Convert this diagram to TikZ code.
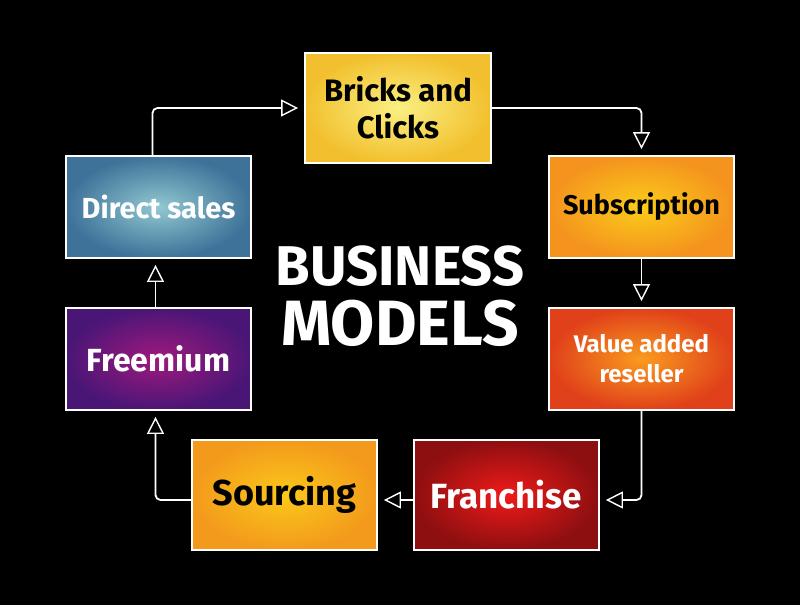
\documentclass[tikz,border=0pt]{standalone}
\usepackage{fontspec}
\setmainfont{Fira Sans}
\usetikzlibrary{arrows.meta}
\tikzset{
  box/.style={draw=white, line width=1.8pt, minimum width=185pt, inner sep=2pt, align=center},
  conn/.style={draw=white, line width=1.8pt, rounded corners=5pt, shorten >=6pt,
    -{Triangle[length=17pt,width=17pt,fill=black,line width=1.4pt]}},
}
\begin{document}
\begin{tikzpicture}[x=1pt,y=-1pt]
\fill[black] (0,0) rectangle (800,605);
\useasboundingbox (0,0) rectangle (800,605);
% boxes
\node[box, minimum height=110pt, minimum width=186pt, inner color={rgb,255:red,250;green,240;blue,130}, outer color={rgb,255:red,242;green,192;blue,46}, text=black, font=\fontsize{31}{37}\bfseries\selectfont] (bc) at (398,108) {Bricks and\\Clicks};
\node[box, minimum height=102pt, inner color={rgb,255:red,145;green,200;blue,208}, outer color={rgb,255:red,62;green,114;blue,153}, text=white, font=\fontsize{29}{32}\bfseries\selectfont] (ds) at (158.5,207) {Direct sales};
\node[box, minimum height=102pt, inner color={rgb,255:red,251;green,205;blue,26}, outer color={rgb,255:red,244;green,147;blue,30}, text=black, font=\fontsize{27}{30}\bfseries\selectfont] (sub) at (641.5,207) {Subscription};
\node[box, minimum height=102pt, inner color={rgb,255:red,250;green,155;blue,31}, outer color={rgb,255:red,224;green,64;blue,26}, text=white, font=\fontsize{24}{30}\bfseries\selectfont] (var) at (641.5,359) {Value added\\reseller};
\node[box, minimum height=110pt, inner color={rgb,255:red,240;green,26;blue,26}, outer color={rgb,255:red,142;green,15;blue,16}, text=white, font=\fontsize{35}{40}\bfseries\selectfont] (fr) at (506.5,495) {Franchise};
\node[box, minimum height=110pt, inner color={rgb,255:red,251;green,200;blue,26}, outer color={rgb,255:red,243;green,154;blue,28}, text=black, font=\fontsize{36}{40}\bfseries\selectfont] (so) at (284.5,495) {Sourcing};
\node[box, minimum height=102pt, inner color={rgb,255:red,160;green,25;blue,126}, outer color={rgb,255:red,74;green,22;blue,118}, text=white, font=\fontsize{32}{36}\bfseries\selectfont] (fm) at (158.5,359) {Freemium};
% title
\node[text=white, font=\fontsize{56}{62}\bfseries\selectfont, align=center] (title) at (400,296) {BUSINESS\\[-2pt]{\fontsize{64}{62}\selectfont MODELS}};
% connectors
\draw[conn] ([xshift=-6pt]ds.north) |- (bc.west);
\draw[conn] (bc.east) -| (sub.north);
\draw[conn] (sub.south) -- (var.north);
\draw[conn] (var.south) |- ([yshift=-5pt]fr.east);
\draw[conn] ([yshift=-5pt]fr.west) -- ([yshift=-5pt]so.east);
\draw[conn] ([yshift=-5pt]so.west) -| ([xshift=-3pt]fm.south);
\draw[conn] ([xshift=-3pt]fm.north) -- ([xshift=-3pt]ds.south);
\end{tikzpicture}
\end{document}
